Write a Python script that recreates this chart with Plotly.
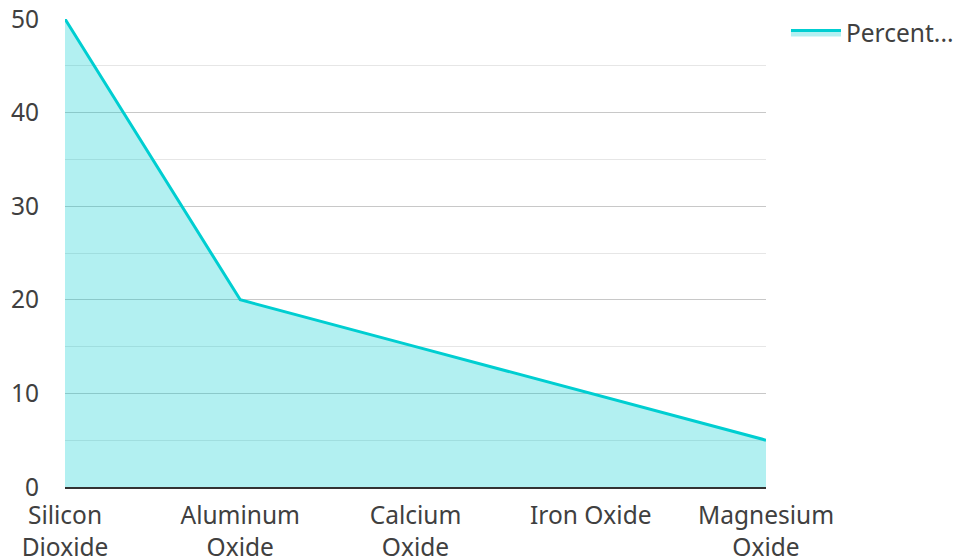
import plotly.graph_objects as go

categories = ["Silicon<br>Dioxide", "Aluminum<br>Oxide", "Calcium<br>Oxide", "Iron Oxide", "Magnesium<br>Oxide"]
values = [50, 20, 15, 10, 5]
series_name = "Percent..."

fig = go.Figure()
fig.add_trace(go.Scatter(
    x=categories, y=values, name=series_name, mode="lines",
    line=dict(color="#00CED1", width=3),
    fill="tozeroy", fillcolor="rgba(0,206,209,0.3)",
))

# the page body adds an 8px offset, so the figure is sized/margined to compensate
fig.update_layout(
    width=953, height=550,
    margin=dict(l=57, r=195, t=11, b=71, autoexpand=False),
    paper_bgcolor="white", plot_bgcolor="white",
    font=dict(family="Noto Sans", size=24.5, color="#404040"),
    showlegend=True,
    legend=dict(x=1.0285, y=1.019, xanchor="left", yanchor="top",
                font=dict(size=24.5, color="#404040"), itemwidth=50),
)
fig.update_xaxes(
    type="category", range=[0, 4], showgrid=False, automargin=False,
    showline=True, linecolor="#333333", linewidth=2,
    ticks="outside", ticklen=6, tickcolor="rgba(0,0,0,0)",
    zeroline=False, ticklabeloverflow="allow",
)
fig.update_yaxes(
    range=[0, 50], dtick=10, showgrid=True, gridcolor="#c8c8c8", gridwidth=1,
    minor=dict(dtick=5, showgrid=True, gridcolor="#e6e6e6", gridwidth=1),
    zeroline=False, showline=False, automargin=False,
    ticks="outside", ticklen=20, tickcolor="rgba(0,0,0,0)",
    ticklabeloverflow="allow",
)

fig.write_html("out.html")
